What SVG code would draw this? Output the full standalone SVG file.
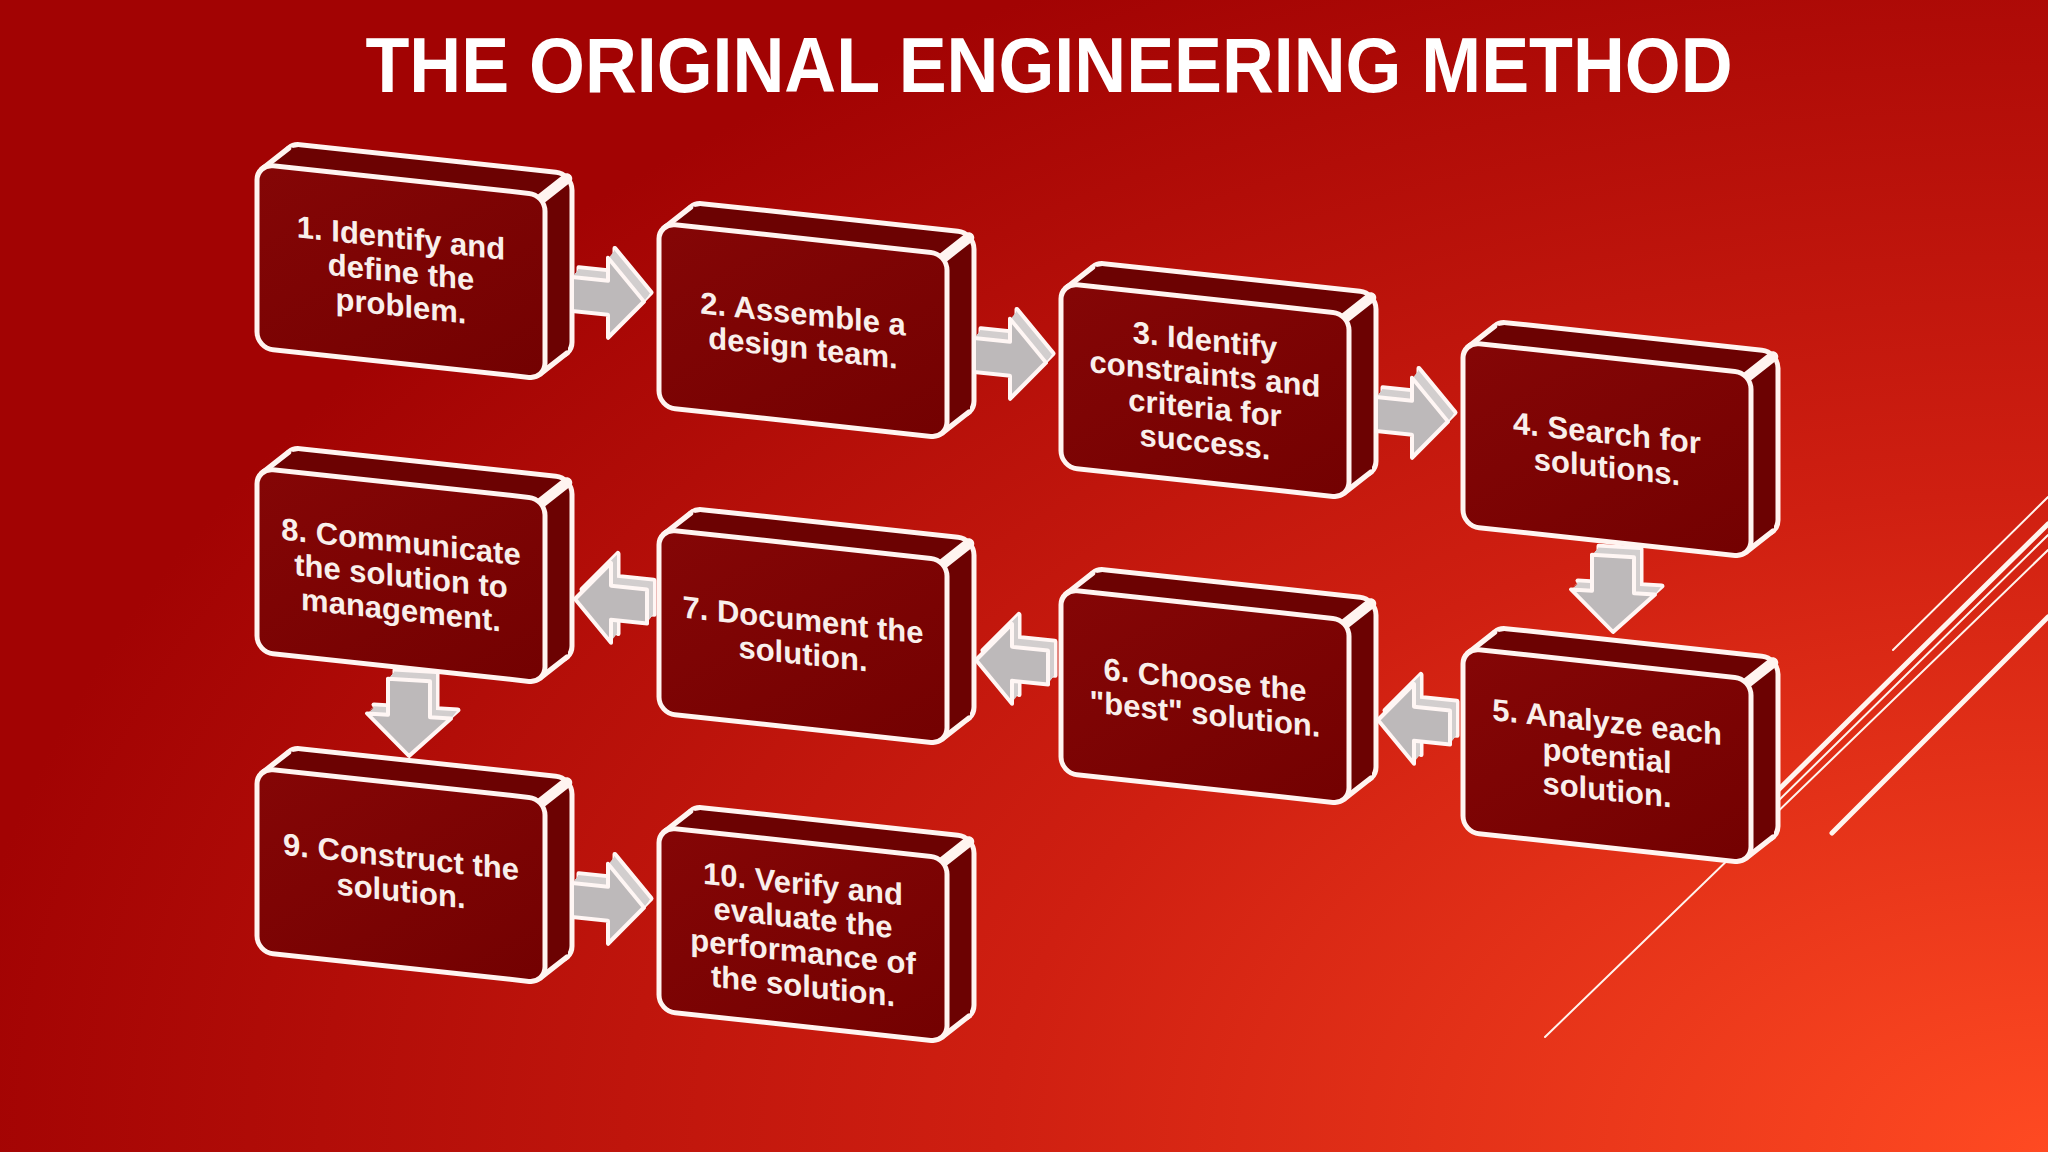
<svg xmlns="http://www.w3.org/2000/svg" xmlns:xlink="http://www.w3.org/1999/xlink" width="2048" height="1152" viewBox="0 0 2048 1152">
<defs>
  <radialGradient id="bg" gradientUnits="userSpaceOnUse" cx="2048" cy="1152" r="1" gradientTransform="translate(2048 1152) scale(2100 1320) translate(-2048 -1152)">
    <stop offset="0" stop-color="#ff4a22"/>
    <stop offset="0.5" stop-color="#cf1f11"/>
    <stop offset="1" stop-color="#a20303"/>
  </radialGradient>
  <linearGradient id="faceG" x1="0" y1="0" x2="1" y2="1">
    <stop offset="0" stop-color="#850606"/>
    <stop offset="1" stop-color="#730101"/>
  </linearGradient>
  <style>
    .side{fill:#6c0202;stroke:#fff4f0;stroke-width:5}
    .sidefill{fill:#6c0202}
    .edge{stroke:#fff4f0;stroke-width:5;stroke-linecap:round}
    .hl{stroke:#fff4f0;stroke-width:10;stroke-linecap:round}
    .face{fill:url(#faceG);stroke:#fff4f0;stroke-width:5}
    .lbl{font-family:"Liberation Sans","DejaVu Sans",sans-serif;font-weight:bold;font-size:31px;fill:#f9efeb;text-anchor:middle}
    .title{font-family:"Liberation Sans","DejaVu Sans",sans-serif;font-weight:bold;font-size:78px;fill:#ffffff;text-anchor:middle}
    .deco{stroke:#fff4ee;fill:none;stroke-linecap:round}
    .aback{fill:#dcd8d8;stroke:#fff6f4;stroke-width:5;stroke-linejoin:round}
    .amid{fill:#d2cece}
    .afront{fill:#bdb9ba;stroke:#fff6f4;stroke-width:4;stroke-linejoin:round}
  </style>
  <g id="slab">
    <rect x="27" y="-24" width="288" height="184" rx="16" class="side"/>
    <polygon points="4,4 31,-20 311,-20 311,156 284,180 284,4" class="sidefill"/>
    <line x1="4.7" y1="4.7" x2="31.7" y2="-19.3" class="edge"/>
    <line x1="283.3" y1="179.3" x2="310.3" y2="155.3" class="edge"/>
    <line x1="283.3" y1="4.7" x2="310.3" y2="-19.3" class="hl"/>
    <rect x="0" y="0" width="288" height="184" rx="16" class="face"/>
  </g>
  <polygon id="rShape" points="0,-17 36,-17 36,-40 72,0 36,40 36,17 0,17"/>
  <polygon id="lShape" points="0,0 36,-40 36,-17 72,-17 72,17 36,17 36,40"/>
  <polygon id="dShape" points="0,0 -42,-40 -21,-40 -21,-76 21,-76 21,-40 42,-40"/>
  <g id="rArrow">
    <use xlink:href="#rShape" class="aback" transform="translate(7 -10)"/>
    <use xlink:href="#rShape" class="amid" transform="translate(6 -8.6)"/>
    <use xlink:href="#rShape" class="amid" transform="translate(5 -7.1)"/>
    <use xlink:href="#rShape" class="amid" transform="translate(4 -5.7)"/>
    <use xlink:href="#rShape" class="amid" transform="translate(3 -4.3)"/>
    <use xlink:href="#rShape" class="amid" transform="translate(2 -2.9)"/>
    <use xlink:href="#rShape" class="amid" transform="translate(1 -1.4)"/>
    <use xlink:href="#rShape" class="afront"/>
  </g>
  <g id="lArrow">
    <use xlink:href="#lShape" class="aback" transform="translate(7 -10)"/>
    <use xlink:href="#lShape" class="amid" transform="translate(6 -8.6)"/>
    <use xlink:href="#lShape" class="amid" transform="translate(5 -7.1)"/>
    <use xlink:href="#lShape" class="amid" transform="translate(4 -5.7)"/>
    <use xlink:href="#lShape" class="amid" transform="translate(3 -4.3)"/>
    <use xlink:href="#lShape" class="amid" transform="translate(2 -2.9)"/>
    <use xlink:href="#lShape" class="amid" transform="translate(1 -1.4)"/>
    <use xlink:href="#lShape" class="afront"/>
  </g>
  <g id="dArrow">
    <use xlink:href="#dShape" class="aback" transform="translate(7 -9)"/>
    <use xlink:href="#dShape" class="amid" transform="translate(6 -7.7)"/>
    <use xlink:href="#dShape" class="amid" transform="translate(5 -6.4)"/>
    <use xlink:href="#dShape" class="amid" transform="translate(4 -5.1)"/>
    <use xlink:href="#dShape" class="amid" transform="translate(3 -3.9)"/>
    <use xlink:href="#dShape" class="amid" transform="translate(2 -2.6)"/>
    <use xlink:href="#dShape" class="amid" transform="translate(1 -1.3)"/>
    <use xlink:href="#dShape" class="afront"/>
  </g>
</defs>

<rect x="0" y="0" width="2048" height="1152" fill="url(#bg)"/>

<g id="decoration">
  <line class="deco" x1="1893" y1="650" x2="2048" y2="497" stroke-width="2"/>
  <line class="deco" x1="1765" y1="803" x2="2048" y2="524" stroke-width="5"/>
  <line class="deco" x1="1765" y1="814" x2="2048" y2="535" stroke-width="2"/>
  <line class="deco" x1="1545" y1="1037" x2="2048" y2="550" stroke-width="2"/>
  <line class="deco" x1="1832" y1="833" x2="2048" y2="617" stroke-width="5"/>
</g>

<text class="title" x="1049" y="92" textLength="1367" lengthAdjust="spacingAndGlyphs">THE ORIGINAL ENGINEERING METHOD</text>

<g id="nodes">
  <g id="node1" transform="matrix(1 0.108 0 1 257 164)">
    <use xlink:href="#slab"/>
    <text class="lbl" x="144" y="69">1. Identify and</text>
    <text class="lbl" x="144" y="103">define the</text>
    <text class="lbl" x="144" y="137">problem.</text>
  </g>
  <g id="node2" transform="matrix(1 0.108 0 1 659 223)">
    <use xlink:href="#slab"/>
    <text class="lbl" x="144" y="86">2. Assemble a</text>
    <text class="lbl" x="144" y="120">design team.</text>
  </g>
  <g id="node3" transform="matrix(1 0.108 0 1 1061 283)">
    <use xlink:href="#slab"/>
    <text class="lbl" x="144" y="52">3. Identify</text>
    <text class="lbl" x="144" y="86">constraints and</text>
    <text class="lbl" x="144" y="120">criteria for</text>
    <text class="lbl" x="144" y="154">success.</text>
  </g>
  <g id="node4" transform="matrix(1 0.108 0 1 1463 342)">
    <use xlink:href="#slab"/>
    <text class="lbl" x="144" y="86">4. Search for</text>
    <text class="lbl" x="144" y="120">solutions.</text>
  </g>
  <g id="node5" transform="matrix(1 0.108 0 1 1463 648)">
    <use xlink:href="#slab"/>
    <text class="lbl" x="144" y="69">5. Analyze each</text>
    <text class="lbl" x="144" y="103">potential</text>
    <text class="lbl" x="144" y="137">solution.</text>
  </g>
  <g id="node6" transform="matrix(1 0.108 0 1 1061 589)">
    <use xlink:href="#slab"/>
    <text class="lbl" x="144" y="86">6. Choose the</text>
    <text class="lbl" x="144" y="120">"best" solution.</text>
  </g>
  <g id="node7" transform="matrix(1 0.108 0 1 659 529)">
    <use xlink:href="#slab"/>
    <text class="lbl" x="144" y="86">7. Document the</text>
    <text class="lbl" x="144" y="120">solution.</text>
  </g>
  <g id="node8" transform="matrix(1 0.108 0 1 257 468)">
    <use xlink:href="#slab"/>
    <text class="lbl" x="144" y="69">8. Communicate</text>
    <text class="lbl" x="144" y="103">the solution to</text>
    <text class="lbl" x="144" y="137">management.</text>
  </g>
  <g id="node9" transform="matrix(1 0.108 0 1 257 768)">
    <use xlink:href="#slab"/>
    <text class="lbl" x="144" y="84">9. Construct the</text>
    <text class="lbl" x="144" y="118">solution.</text>
  </g>
  <g id="node10" transform="matrix(1 0.108 0 1 659 827)">
    <use xlink:href="#slab"/>
    <text class="lbl" x="144" y="52">10. Verify and</text>
    <text class="lbl" x="144" y="86">evaluate the</text>
    <text class="lbl" x="144" y="120">performance of</text>
    <text class="lbl" x="144" y="154">the solution.</text>
  </g>
</g>

<g id="connectors">
  <use xlink:href="#rArrow" transform="matrix(1 0.105 0 1 572 294)"/>
  <use xlink:href="#rArrow" transform="matrix(1 0.105 0 1 974 355)"/>
  <use xlink:href="#rArrow" transform="matrix(1 0.105 0 1 1376 414)"/>
  <use xlink:href="#dArrow" transform="matrix(1 0.06 0 1 1613 632)"/>
  <use xlink:href="#lArrow" transform="matrix(1 0.105 0 1 1378 720)"/>
  <use xlink:href="#lArrow" transform="matrix(1 0.105 0 1 976 660)"/>
  <use xlink:href="#lArrow" transform="matrix(1 0.105 0 1 575 599)"/>
  <use xlink:href="#dArrow" transform="matrix(1 0.06 0 1 409 756)"/>
  <use xlink:href="#rArrow" transform="matrix(1 0.105 0 1 572 900)"/>
</g>
</svg>
